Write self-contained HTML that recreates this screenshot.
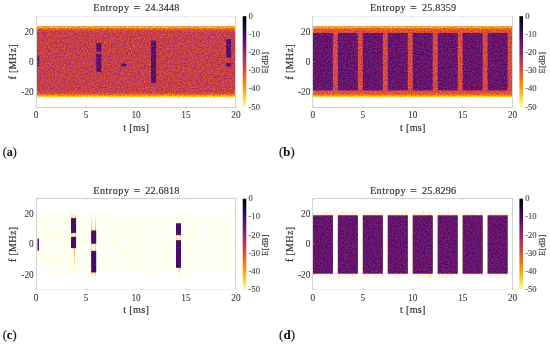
<!DOCTYPE html>
<html><head><meta charset="utf-8"><title>Entropy spectrograms</title>
<style>
html,body{margin:0;padding:0;background:#fff;}
body{width:550px;height:345px;overflow:hidden;}
svg{display:block;font-family:"Liberation Serif","DejaVu Serif",serif;fill:#333;}
text{stroke:#333;stroke-width:0.18px;}
text.k{stroke:#3c3c3c;stroke-width:0.1px;fill:#3c3c3c;}
</style></head><body>
<svg width="550" height="345" viewBox="0 0 550 345">
<defs>
<linearGradient id="cb" x1="0" y1="0" x2="0" y2="1"><stop offset="0.00" stop-color="rgb(0,0,4)"/><stop offset="0.05" stop-color="rgb(7,5,27)"/><stop offset="0.10" stop-color="rgb(22,11,57)"/><stop offset="0.15" stop-color="rgb(43,11,87)"/><stop offset="0.20" stop-color="rgb(66,10,104)"/><stop offset="0.25" stop-color="rgb(87,16,110)"/><stop offset="0.30" stop-color="rgb(106,23,110)"/><stop offset="0.35" stop-color="rgb(127,30,108)"/><stop offset="0.40" stop-color="rgb(147,38,103)"/><stop offset="0.45" stop-color="rgb(168,46,95)"/><stop offset="0.50" stop-color="rgb(188,55,84)"/><stop offset="0.55" stop-color="rgb(204,66,72)"/><stop offset="0.60" stop-color="rgb(221,81,58)"/><stop offset="0.65" stop-color="rgb(234,99,42)"/><stop offset="0.70" stop-color="rgb(243,120,25)"/><stop offset="0.75" stop-color="rgb(249,142,9)"/><stop offset="0.80" stop-color="rgb(252,165,10)"/><stop offset="0.85" stop-color="rgb(251,190,35)"/><stop offset="0.90" stop-color="rgb(246,215,70)"/><stop offset="0.95" stop-color="rgb(241,239,117)"/><stop offset="1.00" stop-color="rgb(252,255,164)"/></linearGradient>
<linearGradient id="bgA" x1="0" y1="0" x2="0" y2="1"><stop offset="0.0000" stop-color="#ededed"/><stop offset="0.0141" stop-color="#d6d6d6"/><stop offset="0.0282" stop-color="#b8b8b8"/><stop offset="0.0451" stop-color="#9e9e9e"/><stop offset="0.0649" stop-color="#909090"/><stop offset="0.0846" stop-color="#888888"/><stop offset="0.9154" stop-color="#888888"/><stop offset="0.9351" stop-color="#909090"/><stop offset="0.9549" stop-color="#9e9e9e"/><stop offset="0.9718" stop-color="#b8b8b8"/><stop offset="0.9859" stop-color="#d6d6d6"/><stop offset="1.0000" stop-color="#ededed"/></linearGradient>
<linearGradient id="bgB" x1="0" y1="0" x2="0" y2="1"><stop offset="0.0000" stop-color="#ededed"/><stop offset="0.0141" stop-color="#d6d6d6"/><stop offset="0.0282" stop-color="#b8b8b8"/><stop offset="0.0451" stop-color="#9e9e9e"/><stop offset="0.0649" stop-color="#9c9c9c"/><stop offset="0.0846" stop-color="#949494"/><stop offset="0.9154" stop-color="#949494"/><stop offset="0.9351" stop-color="#9c9c9c"/><stop offset="0.9549" stop-color="#9e9e9e"/><stop offset="0.9718" stop-color="#b8b8b8"/><stop offset="0.9859" stop-color="#d6d6d6"/><stop offset="1.0000" stop-color="#ededed"/></linearGradient>
<linearGradient id="lnU" x1="0" y1="1" x2="0" y2="0"><stop offset="0" stop-color="#f57d15" stop-opacity="0.95"/><stop offset="0.45" stop-color="#fbb61a" stop-opacity="0.75"/><stop offset="1" stop-color="#fce96a" stop-opacity="0.2"/></linearGradient>
<linearGradient id="lnD" x1="0" y1="0" x2="0" y2="1"><stop offset="0" stop-color="#f57d15" stop-opacity="0.95"/><stop offset="0.45" stop-color="#fbb61a" stop-opacity="0.75"/><stop offset="1" stop-color="#fce96a" stop-opacity="0.2"/></linearGradient>
<linearGradient id="capC" x1="0" y1="0" x2="0" y2="1"><stop offset="0" stop-color="#9e9e9e"/><stop offset="0.03" stop-color="#3b3b3b"/><stop offset="0.97" stop-color="#3b3b3b"/><stop offset="1" stop-color="#9e9e9e"/></linearGradient>
<filter id="fA" filterUnits="userSpaceOnUse" x="0" y="0" width="550" height="345" color-interpolation-filters="sRGB">
<feTurbulence type="fractalNoise" baseFrequency="0.7" numOctaves="2" seed="3" result="t"/>
<feColorMatrix in="t" type="matrix" values="1 0 0 0 0  1 0 0 0 0  1 0 0 0 0  0 0 0 0 1" result="n"/>
<feComposite in="n" in2="SourceGraphic" operator="arithmetic" k1="0" k2="0.4" k3="1" k4="-0.200" result="v"/>
<feComponentTransfer in="v" result="c"><feFuncR type="table" tableValues="0.001 0.006 0.014 0.026 0.042 0.061 0.082 0.105 0.129 0.156 0.183 0.211 0.238 0.265 0.291 0.316 0.348 0.373 0.398 0.423 0.447 0.472 0.497 0.522 0.547 0.572 0.597 0.622 0.646 0.671 0.695 0.718 0.747 0.770 0.791 0.812 0.832 0.851 0.869 0.886 0.902 0.916 0.930 0.942 0.952 0.961 0.969 0.976 0.982 0.985 0.987 0.988 0.987 0.985 0.981 0.976 0.970 0.963 0.955 0.949 0.946 0.952 0.966 0.988"/><feFuncG type="table" tableValues="0.000 0.005 0.011 0.019 0.028 0.037 0.043 0.047 0.047 0.045 0.040 0.037 0.037 0.040 0.046 0.053 0.065 0.074 0.083 0.093 0.102 0.111 0.119 0.128 0.137 0.146 0.155 0.164 0.174 0.184 0.195 0.207 0.222 0.236 0.251 0.267 0.284 0.302 0.322 0.343 0.364 0.387 0.411 0.436 0.462 0.489 0.516 0.544 0.579 0.608 0.638 0.668 0.698 0.728 0.759 0.790 0.821 0.851 0.882 0.910 0.937 0.961 0.981 0.998"/><feFuncB type="table" tableValues="0.014 0.039 0.072 0.106 0.141 0.178 0.215 0.253 0.291 0.325 0.355 0.379 0.396 0.409 0.419 0.425 0.430 0.432 0.433 0.433 0.431 0.428 0.424 0.420 0.414 0.406 0.398 0.389 0.378 0.367 0.354 0.341 0.323 0.307 0.291 0.275 0.257 0.240 0.221 0.203 0.184 0.165 0.145 0.125 0.105 0.084 0.063 0.044 0.026 0.024 0.035 0.058 0.088 0.121 0.157 0.196 0.239 0.286 0.337 0.395 0.459 0.524 0.587 0.645"/><feFuncA type="linear" slope="0" intercept="1"/></feComponentTransfer>
<feComposite in="c" in2="SourceGraphic" operator="in"/>
</filter>
<filter id="fB" filterUnits="userSpaceOnUse" x="0" y="0" width="550" height="345" color-interpolation-filters="sRGB">
<feTurbulence type="fractalNoise" baseFrequency="0.7" numOctaves="2" seed="11" result="t"/>
<feColorMatrix in="t" type="matrix" values="1 0 0 0 0  1 0 0 0 0  1 0 0 0 0  0 0 0 0 1" result="n"/>
<feComposite in="n" in2="SourceGraphic" operator="arithmetic" k1="0" k2="0.36" k3="1" k4="-0.180" result="v"/>
<feComponentTransfer in="v" result="c"><feFuncR type="table" tableValues="0.001 0.006 0.014 0.026 0.042 0.061 0.082 0.105 0.129 0.156 0.183 0.211 0.238 0.265 0.291 0.316 0.348 0.373 0.398 0.423 0.447 0.472 0.497 0.522 0.547 0.572 0.597 0.622 0.646 0.671 0.695 0.718 0.747 0.770 0.791 0.812 0.832 0.851 0.869 0.886 0.902 0.916 0.930 0.942 0.952 0.961 0.969 0.976 0.982 0.985 0.987 0.988 0.987 0.985 0.981 0.976 0.970 0.963 0.955 0.949 0.946 0.952 0.966 0.988"/><feFuncG type="table" tableValues="0.000 0.005 0.011 0.019 0.028 0.037 0.043 0.047 0.047 0.045 0.040 0.037 0.037 0.040 0.046 0.053 0.065 0.074 0.083 0.093 0.102 0.111 0.119 0.128 0.137 0.146 0.155 0.164 0.174 0.184 0.195 0.207 0.222 0.236 0.251 0.267 0.284 0.302 0.322 0.343 0.364 0.387 0.411 0.436 0.462 0.489 0.516 0.544 0.579 0.608 0.638 0.668 0.698 0.728 0.759 0.790 0.821 0.851 0.882 0.910 0.937 0.961 0.981 0.998"/><feFuncB type="table" tableValues="0.014 0.039 0.072 0.106 0.141 0.178 0.215 0.253 0.291 0.325 0.355 0.379 0.396 0.409 0.419 0.425 0.430 0.432 0.433 0.433 0.431 0.428 0.424 0.420 0.414 0.406 0.398 0.389 0.378 0.367 0.354 0.341 0.323 0.307 0.291 0.275 0.257 0.240 0.221 0.203 0.184 0.165 0.145 0.125 0.105 0.084 0.063 0.044 0.026 0.024 0.035 0.058 0.088 0.121 0.157 0.196 0.239 0.286 0.337 0.395 0.459 0.524 0.587 0.645"/><feFuncA type="linear" slope="0" intercept="1"/></feComponentTransfer>
<feComposite in="c" in2="SourceGraphic" operator="in"/>
</filter>
<filter id="fC" filterUnits="userSpaceOnUse" x="0" y="0" width="550" height="345" color-interpolation-filters="sRGB">
<feTurbulence type="fractalNoise" baseFrequency="0.7" numOctaves="2" seed="13" result="t"/>
<feColorMatrix in="t" type="matrix" values="1 0 0 0 0  1 0 0 0 0  1 0 0 0 0  0 0 0 0 1" result="n"/>
<feComposite in="n" in2="SourceGraphic" operator="arithmetic" k1="0" k2="0.28" k3="1" k4="-0.140" result="v"/>
<feComponentTransfer in="v" result="c"><feFuncR type="table" tableValues="0.001 0.006 0.014 0.026 0.042 0.061 0.082 0.105 0.129 0.156 0.183 0.211 0.238 0.265 0.291 0.316 0.348 0.373 0.398 0.423 0.447 0.472 0.497 0.522 0.547 0.572 0.597 0.622 0.646 0.671 0.695 0.718 0.747 0.770 0.791 0.812 0.832 0.851 0.869 0.886 0.902 0.916 0.930 0.942 0.952 0.961 0.969 0.976 0.982 0.985 0.987 0.988 0.987 0.985 0.981 0.976 0.970 0.963 0.955 0.949 0.946 0.952 0.966 0.988"/><feFuncG type="table" tableValues="0.000 0.005 0.011 0.019 0.028 0.037 0.043 0.047 0.047 0.045 0.040 0.037 0.037 0.040 0.046 0.053 0.065 0.074 0.083 0.093 0.102 0.111 0.119 0.128 0.137 0.146 0.155 0.164 0.174 0.184 0.195 0.207 0.222 0.236 0.251 0.267 0.284 0.302 0.322 0.343 0.364 0.387 0.411 0.436 0.462 0.489 0.516 0.544 0.579 0.608 0.638 0.668 0.698 0.728 0.759 0.790 0.821 0.851 0.882 0.910 0.937 0.961 0.981 0.998"/><feFuncB type="table" tableValues="0.014 0.039 0.072 0.106 0.141 0.178 0.215 0.253 0.291 0.325 0.355 0.379 0.396 0.409 0.419 0.425 0.430 0.432 0.433 0.433 0.431 0.428 0.424 0.420 0.414 0.406 0.398 0.389 0.378 0.367 0.354 0.341 0.323 0.307 0.291 0.275 0.257 0.240 0.221 0.203 0.184 0.165 0.145 0.125 0.105 0.084 0.063 0.044 0.026 0.024 0.035 0.058 0.088 0.121 0.157 0.196 0.239 0.286 0.337 0.395 0.459 0.524 0.587 0.645"/><feFuncA type="linear" slope="0" intercept="1"/></feComponentTransfer>
<feComposite in="c" in2="SourceGraphic" operator="in"/>
</filter>
<filter id="fD" filterUnits="userSpaceOnUse" x="0" y="0" width="550" height="345" color-interpolation-filters="sRGB">
<feTurbulence type="fractalNoise" baseFrequency="0.7" numOctaves="2" seed="9" result="t"/>
<feColorMatrix in="t" type="matrix" values="1 0 0 0 0  1 0 0 0 0  1 0 0 0 0  0 0 0 0 1" result="n"/>
<feComposite in="n" in2="SourceGraphic" operator="arithmetic" k1="0" k2="0.34" k3="1" k4="-0.170" result="v"/>
<feComponentTransfer in="v" result="c"><feFuncR type="table" tableValues="0.001 0.006 0.014 0.026 0.042 0.061 0.082 0.105 0.129 0.156 0.183 0.211 0.238 0.265 0.291 0.316 0.348 0.373 0.398 0.423 0.447 0.472 0.497 0.522 0.547 0.572 0.597 0.622 0.646 0.671 0.695 0.718 0.747 0.770 0.791 0.812 0.832 0.851 0.869 0.886 0.902 0.916 0.930 0.942 0.952 0.961 0.969 0.976 0.982 0.985 0.987 0.988 0.987 0.985 0.981 0.976 0.970 0.963 0.955 0.949 0.946 0.952 0.966 0.988"/><feFuncG type="table" tableValues="0.000 0.005 0.011 0.019 0.028 0.037 0.043 0.047 0.047 0.045 0.040 0.037 0.037 0.040 0.046 0.053 0.065 0.074 0.083 0.093 0.102 0.111 0.119 0.128 0.137 0.146 0.155 0.164 0.174 0.184 0.195 0.207 0.222 0.236 0.251 0.267 0.284 0.302 0.322 0.343 0.364 0.387 0.411 0.436 0.462 0.489 0.516 0.544 0.579 0.608 0.638 0.668 0.698 0.728 0.759 0.790 0.821 0.851 0.882 0.910 0.937 0.961 0.981 0.998"/><feFuncB type="table" tableValues="0.014 0.039 0.072 0.106 0.141 0.178 0.215 0.253 0.291 0.325 0.355 0.379 0.396 0.409 0.419 0.425 0.430 0.432 0.433 0.433 0.431 0.428 0.424 0.420 0.414 0.406 0.398 0.389 0.378 0.367 0.354 0.341 0.323 0.307 0.291 0.275 0.257 0.240 0.221 0.203 0.184 0.165 0.145 0.125 0.105 0.084 0.063 0.044 0.026 0.024 0.035 0.058 0.088 0.121 0.157 0.196 0.239 0.286 0.337 0.395 0.459 0.524 0.587 0.645"/><feFuncA type="linear" slope="0" intercept="1"/></feComponentTransfer>
<feComposite in="c" in2="SourceGraphic" operator="in"/>
</filter>
<filter id="sC" filterUnits="userSpaceOnUse" x="0" y="0" width="550" height="345" color-interpolation-filters="sRGB">
<feTurbulence type="fractalNoise" baseFrequency="0.7" numOctaves="2" seed="21" result="t"/>
<feColorMatrix in="t" type="matrix" values="1 0 0 0 0  1 0 0 0 0  1 0 0 0 0  0 0 0 0 1" result="g"/>
<feComponentTransfer in="g" result="c"><feFuncR type="table" tableValues="1.000 1.000 1.000 1.000 1.000 1.000 1.000 1.000 1.000 1.000 1.000 1.000 1.000 1.000 1.000 1.000 1.000 1.000 1.000 0.999 0.999 0.998 0.998 0.997 0.997 0.996 0.995 0.995 0.994 0.994 0.993 0.993 0.992 0.992 0.992 0.992 0.992 0.992 0.992 0.992 0.992"/><feFuncG type="table" tableValues="1.000 1.000 1.000 1.000 1.000 1.000 1.000 1.000 1.000 1.000 1.000 1.000 1.000 1.000 1.000 1.000 1.000 1.000 1.000 1.000 1.000 1.000 1.000 1.000 1.000 1.000 1.000 1.000 1.000 1.000 1.000 1.000 1.000 1.000 1.000 1.000 1.000 1.000 1.000 1.000 1.000"/><feFuncB type="table" tableValues="1.000 1.000 1.000 1.000 1.000 1.000 1.000 1.000 1.000 1.000 1.000 1.000 1.000 1.000 1.000 1.000 1.000 1.000 0.994 0.979 0.964 0.949 0.934 0.919 0.904 0.889 0.874 0.859 0.844 0.829 0.814 0.799 0.784 0.784 0.784 0.784 0.784 0.784 0.784 0.784 0.784"/></feComponentTransfer>
<feComposite in="c" in2="SourceGraphic" operator="in"/>
</filter>
<filter id="sD" filterUnits="userSpaceOnUse" x="0" y="0" width="550" height="345" color-interpolation-filters="sRGB">
<feTurbulence type="fractalNoise" baseFrequency="0.7" numOctaves="2" seed="23" result="t"/>
<feColorMatrix in="t" type="matrix" values="1 0 0 0 0  1 0 0 0 0  1 0 0 0 0  0 0 0 0 1" result="g"/>
<feComponentTransfer in="g" result="c"><feFuncR type="table" tableValues="1.000 1.000 1.000 1.000 1.000 1.000 1.000 1.000 1.000 1.000 1.000 1.000 1.000 1.000 1.000 1.000 1.000 1.000 1.000 1.000 1.000 1.000 0.999 0.999 0.998 0.998 0.997 0.997 0.996 0.996 0.995 0.995 0.994 0.994 0.993 0.993 0.992 0.992 0.992 0.992 0.992"/><feFuncG type="table" tableValues="1.000 1.000 1.000 1.000 1.000 1.000 1.000 1.000 1.000 1.000 1.000 1.000 1.000 1.000 1.000 1.000 1.000 1.000 1.000 1.000 1.000 1.000 1.000 1.000 1.000 1.000 1.000 1.000 1.000 1.000 1.000 1.000 1.000 1.000 1.000 1.000 1.000 1.000 1.000 1.000 1.000"/><feFuncB type="table" tableValues="1.000 1.000 1.000 1.000 1.000 1.000 1.000 1.000 1.000 1.000 1.000 1.000 1.000 1.000 1.000 1.000 1.000 1.000 1.000 1.000 1.000 0.989 0.978 0.967 0.956 0.945 0.934 0.923 0.912 0.901 0.890 0.879 0.868 0.857 0.846 0.835 0.824 0.824 0.824 0.824 0.824"/></feComponentTransfer>
<feComposite in="c" in2="SourceGraphic" operator="in"/>
</filter>
</defs>
<rect x="0" y="0" width="550" height="345" fill="#fff"/>
<g id="panel-a">
<g filter="url(#fA)"><rect x="36.20" y="26.20" width="199.70" height="70.90" fill="url(#bgA)"/>
<rect x="37.60" y="55.90" width="1.50" height="10.80" fill="#414141"/>
<rect x="96.30" y="43.00" width="5.00" height="8.50" fill="#414141"/>
<rect x="96.30" y="53.90" width="5.00" height="18.30" fill="#414141"/>
<rect x="120.90" y="63.70" width="5.40" height="2.60" fill="#414141"/>
<rect x="151.10" y="40.70" width="5.00" height="42.60" fill="#414141"/>
<rect x="226.30" y="39.10" width="4.80" height="18.50" fill="#414141"/>
<rect x="226.30" y="63.00" width="4.80" height="3.70" fill="#414141"/></g>
<path d="M36.5 16.20V107.80M235.5 16.20V107.80" stroke="#d4d4d4" stroke-width="1" fill="none"/>
<path d="M36.20 16.5H236.50" stroke="#ededed" stroke-width="1" fill="none"/>
<path d="M36.20 107.5H236.50" stroke="#d2d2d2" stroke-width="1" fill="none"/>
<path d="M36.20 107.20v-1.6M36.20 16.20v1.6" stroke="#bdbdbd" stroke-width="0.6"/>
<text x="36.20" y="118.30" font-size="9.3" text-anchor="middle" class="k">0</text>
<path d="M86.12 107.20v-1.6M86.12 16.20v1.6" stroke="#bdbdbd" stroke-width="0.6"/>
<text x="86.12" y="118.30" font-size="9.3" text-anchor="middle" class="k">5</text>
<path d="M136.05 107.20v-1.6M136.05 16.20v1.6" stroke="#bdbdbd" stroke-width="0.6"/>
<text x="136.05" y="118.30" font-size="9.3" text-anchor="middle" class="k">10</text>
<path d="M185.98 107.20v-1.6M185.98 16.20v1.6" stroke="#bdbdbd" stroke-width="0.6"/>
<text x="185.98" y="118.30" font-size="9.3" text-anchor="middle" class="k">15</text>
<path d="M235.90 107.20v-1.6M235.90 16.20v1.6" stroke="#bdbdbd" stroke-width="0.6"/>
<text x="235.90" y="118.30" font-size="9.3" text-anchor="middle" class="k">20</text>
<path d="M36.20 31.37h1.6M235.90 31.37h-1.6" stroke="#bdbdbd" stroke-width="0.6"/>
<text x="33.70" y="34.52" font-size="9.3" text-anchor="end" class="k">20</text>
<path d="M36.20 61.70h1.6M235.90 61.70h-1.6" stroke="#bdbdbd" stroke-width="0.6"/>
<text x="33.70" y="64.85" font-size="9.3" text-anchor="end" class="k">0</text>
<path d="M36.20 92.03h1.6M235.90 92.03h-1.6" stroke="#bdbdbd" stroke-width="0.6"/>
<text x="33.70" y="95.18" font-size="9.3" text-anchor="end" class="k">-20</text>
<text x="136.05" y="130.90" font-size="10.2" text-anchor="middle" textLength="25.5" lengthAdjust="spacing">t [ms]</text>
<text transform="translate(16.20 62.00) rotate(-90)" font-size="10" text-anchor="middle" textLength="35" lengthAdjust="spacing">f [MHz]</text>
<text y="11.00" font-size="10.2"><tspan x="93.20" textLength="35.8" lengthAdjust="spacing">Entropy</tspan> <tspan x="133.40" font-size="12" dy="1">=</tspan> <tspan x="145.20" dy="-1" textLength="34.2" lengthAdjust="spacing">24.3448</tspan></text>
<rect x="242.70" y="16.20" width="3.60" height="91.00" fill="url(#cb)"/>
<text x="248.50" y="18.60" font-size="8.6" class="k">0</text>
<text x="248.50" y="36.80" font-size="8.6" class="k">-10</text>
<text x="248.50" y="55.00" font-size="8.6" class="k">-20</text>
<text x="248.50" y="73.20" font-size="8.6" class="k">-30</text>
<text x="248.50" y="91.40" font-size="8.6" class="k">-40</text>
<text x="248.50" y="109.60" font-size="8.6" class="k">-50</text>
<text transform="translate(268.10 62.70) rotate(-90)" font-size="8.6" text-anchor="middle" textLength="21.5" lengthAdjust="spacing">E[dB]</text>
</g>
<g id="panel-b">
<g filter="url(#fB)"><rect x="312.90" y="26.20" width="199.70" height="70.90" fill="url(#bgB)"/>
<rect x="312.90" y="33.00" width="19.97" height="57.40" fill="#4a4a4a"/>
<rect x="337.86" y="33.00" width="19.97" height="57.40" fill="#4a4a4a"/>
<rect x="362.82" y="33.00" width="19.97" height="57.40" fill="#4a4a4a"/>
<rect x="387.79" y="33.00" width="19.97" height="57.40" fill="#4a4a4a"/>
<rect x="412.75" y="33.00" width="19.97" height="57.40" fill="#4a4a4a"/>
<rect x="437.71" y="33.00" width="19.97" height="57.40" fill="#4a4a4a"/>
<rect x="462.68" y="33.00" width="19.97" height="57.40" fill="#4a4a4a"/>
<rect x="487.64" y="33.00" width="19.97" height="57.40" fill="#4a4a4a"/></g>
<path d="M312.5 16.20V107.80M512.5 16.20V107.80" stroke="#d4d4d4" stroke-width="1" fill="none"/>
<path d="M312.90 16.5H513.20" stroke="#ededed" stroke-width="1" fill="none"/>
<path d="M312.90 107.5H513.20" stroke="#d2d2d2" stroke-width="1" fill="none"/>
<path d="M312.90 107.20v-1.6M312.90 16.20v1.6" stroke="#bdbdbd" stroke-width="0.6"/>
<text x="312.90" y="118.30" font-size="9.3" text-anchor="middle" class="k">0</text>
<path d="M362.82 107.20v-1.6M362.82 16.20v1.6" stroke="#bdbdbd" stroke-width="0.6"/>
<text x="362.82" y="118.30" font-size="9.3" text-anchor="middle" class="k">5</text>
<path d="M412.75 107.20v-1.6M412.75 16.20v1.6" stroke="#bdbdbd" stroke-width="0.6"/>
<text x="412.75" y="118.30" font-size="9.3" text-anchor="middle" class="k">10</text>
<path d="M462.68 107.20v-1.6M462.68 16.20v1.6" stroke="#bdbdbd" stroke-width="0.6"/>
<text x="462.68" y="118.30" font-size="9.3" text-anchor="middle" class="k">15</text>
<path d="M512.60 107.20v-1.6M512.60 16.20v1.6" stroke="#bdbdbd" stroke-width="0.6"/>
<text x="512.60" y="118.30" font-size="9.3" text-anchor="middle" class="k">20</text>
<path d="M312.90 31.37h1.6M512.60 31.37h-1.6" stroke="#bdbdbd" stroke-width="0.6"/>
<text x="310.40" y="34.52" font-size="9.3" text-anchor="end" class="k">20</text>
<path d="M312.90 61.70h1.6M512.60 61.70h-1.6" stroke="#bdbdbd" stroke-width="0.6"/>
<text x="310.40" y="64.85" font-size="9.3" text-anchor="end" class="k">0</text>
<path d="M312.90 92.03h1.6M512.60 92.03h-1.6" stroke="#bdbdbd" stroke-width="0.6"/>
<text x="310.40" y="95.18" font-size="9.3" text-anchor="end" class="k">-20</text>
<text x="412.75" y="130.90" font-size="10.2" text-anchor="middle" textLength="25.5" lengthAdjust="spacing">t [ms]</text>
<text transform="translate(292.90 62.00) rotate(-90)" font-size="10" text-anchor="middle" textLength="35" lengthAdjust="spacing">f [MHz]</text>
<text y="11.00" font-size="10.2"><tspan x="369.90" textLength="35.8" lengthAdjust="spacing">Entropy</tspan> <tspan x="410.10" font-size="12" dy="1">=</tspan> <tspan x="421.90" dy="-1" textLength="34.2" lengthAdjust="spacing">25.8359</tspan></text>
<rect x="519.40" y="16.20" width="3.60" height="91.00" fill="url(#cb)"/>
<text x="525.20" y="18.60" font-size="8.6" class="k">0</text>
<text x="525.20" y="36.80" font-size="8.6" class="k">-10</text>
<text x="525.20" y="55.00" font-size="8.6" class="k">-20</text>
<text x="525.20" y="73.20" font-size="8.6" class="k">-30</text>
<text x="525.20" y="91.40" font-size="8.6" class="k">-40</text>
<text x="525.20" y="109.60" font-size="8.6" class="k">-50</text>
<text transform="translate(544.80 62.70) rotate(-90)" font-size="8.6" text-anchor="middle" textLength="21.5" lengthAdjust="spacing">E[dB]</text>
</g>
<g id="panel-c">
<rect x="36.50" y="213.80" width="196.30" height="60.50" fill="#fffff0" filter="url(#sC)"/>
<rect x="71.65" y="211.40" width="0.7" height="7.10" fill="url(#lnU)"/>
<rect x="71.65" y="232.50" width="0.7" height="4.70" fill="#f68a1b" opacity="0.6"/>
<rect x="74.75" y="211.40" width="0.7" height="7.10" fill="url(#lnU)"/>
<rect x="74.75" y="232.50" width="0.7" height="4.70" fill="#f68a1b" opacity="0.6"/>
<rect x="73.95" y="247.80" width="0.7" height="25.00" fill="url(#lnD)"/>
<rect x="91.55" y="212.60" width="0.7" height="18.20" fill="url(#lnU)"/>
<rect x="91.55" y="243.20" width="0.7" height="8.00" fill="#f68a1b" opacity="0.6"/>
<rect x="91.55" y="272.00" width="0.7" height="5.50" fill="url(#lnD)"/>
<rect x="95.25" y="212.60" width="0.7" height="18.20" fill="url(#lnU)"/>
<rect x="95.25" y="243.20" width="0.7" height="8.00" fill="#f68a1b" opacity="0.6"/>
<rect x="95.25" y="272.00" width="0.7" height="5.50" fill="url(#lnD)"/>
<rect x="176.45" y="234.60" width="0.7" height="6.00" fill="#f68a1b" opacity="0.6"/>
<rect x="179.75" y="234.60" width="0.7" height="6.00" fill="#f68a1b" opacity="0.6"/>
<rect x="178.85" y="267.40" width="0.7" height="8.90" fill="url(#lnD)"/>
<rect x="37.80" y="238.45" width="1.00" height="12.60" fill="#f0701f"/>
<rect x="71.20" y="217.85" width="4.70" height="15.40" fill="#f0701f"/>
<rect x="71.20" y="236.55" width="4.70" height="11.80" fill="#f0701f"/>
<rect x="91.40" y="230.25" width="4.60" height="13.70" fill="#f0701f"/>
<rect x="91.40" y="250.65" width="4.60" height="22.00" fill="#f0701f"/>
<rect x="176.20" y="223.05" width="4.60" height="12.30" fill="#f0701f"/>
<rect x="176.20" y="239.95" width="4.60" height="28.10" fill="#f0701f"/>
<g filter="url(#fC)"><rect x="37.60" y="238.90" width="1.40" height="11.70" fill="#383838"/>
<rect x="71.00" y="218.30" width="5.10" height="14.50" fill="#383838"/>
<rect x="71.00" y="237.00" width="5.10" height="10.90" fill="#383838"/>
<rect x="91.20" y="230.70" width="5.00" height="12.80" fill="#383838"/>
<rect x="91.20" y="251.10" width="5.00" height="21.10" fill="#383838"/>
<rect x="176.00" y="223.50" width="5.00" height="11.40" fill="#383838"/>
<rect x="176.00" y="240.40" width="5.00" height="27.20" fill="#383838"/></g>
<path d="M36.5 198.70V290.30M235.5 198.70V290.30" stroke="#d4d4d4" stroke-width="1" fill="none"/>
<path d="M36.20 198.5H236.50" stroke="#d2d2d2" stroke-width="1" fill="none"/>
<path d="M36.20 289.5H236.50" stroke="#efefef" stroke-width="1" fill="none"/>
<path d="M36.20 289.70v-1.6M36.20 198.70v1.6" stroke="#bdbdbd" stroke-width="0.6"/>
<text x="36.20" y="300.80" font-size="9.3" text-anchor="middle" class="k">0</text>
<path d="M86.12 289.70v-1.6M86.12 198.70v1.6" stroke="#bdbdbd" stroke-width="0.6"/>
<text x="86.12" y="300.80" font-size="9.3" text-anchor="middle" class="k">5</text>
<path d="M136.05 289.70v-1.6M136.05 198.70v1.6" stroke="#bdbdbd" stroke-width="0.6"/>
<text x="136.05" y="300.80" font-size="9.3" text-anchor="middle" class="k">10</text>
<path d="M185.98 289.70v-1.6M185.98 198.70v1.6" stroke="#bdbdbd" stroke-width="0.6"/>
<text x="185.98" y="300.80" font-size="9.3" text-anchor="middle" class="k">15</text>
<path d="M235.90 289.70v-1.6M235.90 198.70v1.6" stroke="#bdbdbd" stroke-width="0.6"/>
<text x="235.90" y="300.80" font-size="9.3" text-anchor="middle" class="k">20</text>
<path d="M36.20 213.87h1.6M235.90 213.87h-1.6" stroke="#bdbdbd" stroke-width="0.6"/>
<text x="33.70" y="217.02" font-size="9.3" text-anchor="end" class="k">20</text>
<path d="M36.20 244.20h1.6M235.90 244.20h-1.6" stroke="#bdbdbd" stroke-width="0.6"/>
<text x="33.70" y="247.35" font-size="9.3" text-anchor="end" class="k">0</text>
<path d="M36.20 274.53h1.6M235.90 274.53h-1.6" stroke="#bdbdbd" stroke-width="0.6"/>
<text x="33.70" y="277.68" font-size="9.3" text-anchor="end" class="k">-20</text>
<text x="136.05" y="313.40" font-size="10.2" text-anchor="middle" textLength="25.5" lengthAdjust="spacing">t [ms]</text>
<text transform="translate(16.20 244.50) rotate(-90)" font-size="10" text-anchor="middle" textLength="35" lengthAdjust="spacing">f [MHz]</text>
<text y="193.50" font-size="10.2"><tspan x="93.20" textLength="35.8" lengthAdjust="spacing">Entropy</tspan> <tspan x="133.40" font-size="12" dy="1">=</tspan> <tspan x="145.20" dy="-1" textLength="34.2" lengthAdjust="spacing">22.6818</tspan></text>
<rect x="242.70" y="198.70" width="3.60" height="91.00" fill="url(#cb)"/>
<text x="248.50" y="201.10" font-size="8.6" class="k">0</text>
<text x="248.50" y="219.30" font-size="8.6" class="k">-10</text>
<text x="248.50" y="237.50" font-size="8.6" class="k">-20</text>
<text x="248.50" y="255.70" font-size="8.6" class="k">-30</text>
<text x="248.50" y="273.90" font-size="8.6" class="k">-40</text>
<text x="248.50" y="292.10" font-size="8.6" class="k">-50</text>
<text transform="translate(268.10 245.20) rotate(-90)" font-size="8.6" text-anchor="middle" textLength="21.5" lengthAdjust="spacing">E[dB]</text>
</g>
<g id="panel-d">
<rect x="312.90" y="215.00" width="196.70" height="59.00" fill="#fffff0" filter="url(#sD)"/>
<path d="M313.92 213.14V215.40" stroke="#fbc44a" stroke-width="0.8" opacity="0.41"/>
<path d="M313.92 273.60V276.59" stroke="#fbc44a" stroke-width="0.8" opacity="0.38"/>
<path d="M317.62 211.11V215.40" stroke="#fbc44a" stroke-width="0.8" opacity="0.66"/>
<path d="M317.62 273.60V277.60" stroke="#fbc44a" stroke-width="0.8" opacity="0.44"/>
<path d="M321.25 212.71V215.40" stroke="#fbc44a" stroke-width="0.8" opacity="0.39"/>
<path d="M321.25 273.60V276.03" stroke="#fbc44a" stroke-width="0.8" opacity="0.44"/>
<path d="M325.35 211.33V215.40" stroke="#fbc44a" stroke-width="0.8" opacity="0.67"/>
<path d="M325.35 273.60V277.62" stroke="#fbc44a" stroke-width="0.8" opacity="0.43"/>
<path d="M327.63 211.83V215.40" stroke="#fbc44a" stroke-width="0.8" opacity="0.69"/>
<path d="M327.63 273.60V277.43" stroke="#fbc44a" stroke-width="0.8" opacity="0.70"/>
<path d="M330.63 211.89V215.40" stroke="#fbc44a" stroke-width="0.8" opacity="0.55"/>
<path d="M330.63 273.60V277.28" stroke="#fbc44a" stroke-width="0.8" opacity="0.42"/>
<rect x="312.90" y="214.90" width="19.97" height="59.20" fill="#f79a25"/>
<path d="M339.31 213.18V215.40" stroke="#fbc44a" stroke-width="0.8" opacity="0.70"/>
<path d="M339.31 273.60V277.94" stroke="#fbc44a" stroke-width="0.8" opacity="0.57"/>
<path d="M342.40 211.13V215.40" stroke="#fbc44a" stroke-width="0.8" opacity="0.70"/>
<path d="M342.40 273.60V277.03" stroke="#fbc44a" stroke-width="0.8" opacity="0.69"/>
<path d="M346.17 212.37V215.40" stroke="#fbc44a" stroke-width="0.8" opacity="0.52"/>
<path d="M346.17 273.60V277.10" stroke="#fbc44a" stroke-width="0.8" opacity="0.41"/>
<path d="M349.19 211.37V215.40" stroke="#fbc44a" stroke-width="0.8" opacity="0.37"/>
<path d="M349.19 273.60V275.71" stroke="#fbc44a" stroke-width="0.8" opacity="0.60"/>
<path d="M352.54 212.06V215.40" stroke="#fbc44a" stroke-width="0.8" opacity="0.49"/>
<path d="M352.54 273.60V276.78" stroke="#fbc44a" stroke-width="0.8" opacity="0.75"/>
<path d="M355.78 212.37V215.40" stroke="#fbc44a" stroke-width="0.8" opacity="0.60"/>
<path d="M355.78 273.60V276.11" stroke="#fbc44a" stroke-width="0.8" opacity="0.46"/>
<rect x="337.86" y="214.90" width="19.97" height="59.20" fill="#f79a25"/>
<path d="M364.07 211.53V215.40" stroke="#fbc44a" stroke-width="0.8" opacity="0.57"/>
<path d="M364.07 273.60V276.40" stroke="#fbc44a" stroke-width="0.8" opacity="0.71"/>
<path d="M367.00 213.25V215.40" stroke="#fbc44a" stroke-width="0.8" opacity="0.66"/>
<path d="M367.00 273.60V276.17" stroke="#fbc44a" stroke-width="0.8" opacity="0.60"/>
<path d="M370.64 212.57V215.40" stroke="#fbc44a" stroke-width="0.8" opacity="0.53"/>
<path d="M370.64 273.60V276.04" stroke="#fbc44a" stroke-width="0.8" opacity="0.37"/>
<path d="M374.86 211.16V215.40" stroke="#fbc44a" stroke-width="0.8" opacity="0.64"/>
<path d="M374.86 273.60V277.99" stroke="#fbc44a" stroke-width="0.8" opacity="0.73"/>
<path d="M377.03 212.68V215.40" stroke="#fbc44a" stroke-width="0.8" opacity="0.66"/>
<path d="M377.03 273.60V278.02" stroke="#fbc44a" stroke-width="0.8" opacity="0.51"/>
<path d="M382.09 211.85V215.40" stroke="#fbc44a" stroke-width="0.8" opacity="0.47"/>
<path d="M382.09 273.60V277.64" stroke="#fbc44a" stroke-width="0.8" opacity="0.43"/>
<rect x="362.82" y="214.90" width="19.97" height="59.20" fill="#f79a25"/>
<path d="M389.19 213.06V215.40" stroke="#fbc44a" stroke-width="0.8" opacity="0.73"/>
<path d="M389.19 273.60V276.55" stroke="#fbc44a" stroke-width="0.8" opacity="0.48"/>
<path d="M391.80 213.29V215.40" stroke="#fbc44a" stroke-width="0.8" opacity="0.66"/>
<path d="M391.80 273.60V276.02" stroke="#fbc44a" stroke-width="0.8" opacity="0.50"/>
<path d="M395.70 213.16V215.40" stroke="#fbc44a" stroke-width="0.8" opacity="0.52"/>
<path d="M395.70 273.60V278.05" stroke="#fbc44a" stroke-width="0.8" opacity="0.43"/>
<path d="M398.68 213.26V215.40" stroke="#fbc44a" stroke-width="0.8" opacity="0.62"/>
<path d="M398.68 273.60V276.02" stroke="#fbc44a" stroke-width="0.8" opacity="0.41"/>
<path d="M402.04 212.17V215.40" stroke="#fbc44a" stroke-width="0.8" opacity="0.75"/>
<path d="M402.04 273.60V276.22" stroke="#fbc44a" stroke-width="0.8" opacity="0.40"/>
<path d="M406.31 211.47V215.40" stroke="#fbc44a" stroke-width="0.8" opacity="0.75"/>
<path d="M406.31 273.60V276.62" stroke="#fbc44a" stroke-width="0.8" opacity="0.54"/>
<rect x="387.79" y="214.90" width="19.97" height="59.20" fill="#f79a25"/>
<path d="M413.79 212.37V215.40" stroke="#fbc44a" stroke-width="0.8" opacity="0.52"/>
<path d="M413.79 273.60V275.69" stroke="#fbc44a" stroke-width="0.8" opacity="0.45"/>
<path d="M418.34 211.32V215.40" stroke="#fbc44a" stroke-width="0.8" opacity="0.36"/>
<path d="M418.34 273.60V276.85" stroke="#fbc44a" stroke-width="0.8" opacity="0.45"/>
<path d="M420.57 212.88V215.40" stroke="#fbc44a" stroke-width="0.8" opacity="0.70"/>
<path d="M420.57 273.60V276.18" stroke="#fbc44a" stroke-width="0.8" opacity="0.41"/>
<path d="M423.62 211.08V215.40" stroke="#fbc44a" stroke-width="0.8" opacity="0.75"/>
<path d="M423.62 273.60V277.01" stroke="#fbc44a" stroke-width="0.8" opacity="0.51"/>
<path d="M428.55 211.77V215.40" stroke="#fbc44a" stroke-width="0.8" opacity="0.65"/>
<path d="M428.55 273.60V277.58" stroke="#fbc44a" stroke-width="0.8" opacity="0.55"/>
<path d="M430.49 212.87V215.40" stroke="#fbc44a" stroke-width="0.8" opacity="0.71"/>
<path d="M430.49 273.60V277.78" stroke="#fbc44a" stroke-width="0.8" opacity="0.72"/>
<rect x="412.75" y="214.90" width="19.97" height="59.20" fill="#f79a25"/>
<path d="M438.92 211.76V215.40" stroke="#fbc44a" stroke-width="0.8" opacity="0.61"/>
<path d="M438.92 273.60V277.60" stroke="#fbc44a" stroke-width="0.8" opacity="0.68"/>
<path d="M442.66 211.76V215.40" stroke="#fbc44a" stroke-width="0.8" opacity="0.46"/>
<path d="M442.66 273.60V277.31" stroke="#fbc44a" stroke-width="0.8" opacity="0.72"/>
<path d="M446.82 213.21V215.40" stroke="#fbc44a" stroke-width="0.8" opacity="0.73"/>
<path d="M446.82 273.60V278.03" stroke="#fbc44a" stroke-width="0.8" opacity="0.62"/>
<path d="M448.57 211.15V215.40" stroke="#fbc44a" stroke-width="0.8" opacity="0.74"/>
<path d="M448.57 273.60V275.92" stroke="#fbc44a" stroke-width="0.8" opacity="0.62"/>
<path d="M452.00 212.98V215.40" stroke="#fbc44a" stroke-width="0.8" opacity="0.58"/>
<path d="M452.00 273.60V277.19" stroke="#fbc44a" stroke-width="0.8" opacity="0.65"/>
<path d="M456.95 212.85V215.40" stroke="#fbc44a" stroke-width="0.8" opacity="0.72"/>
<path d="M456.95 273.60V275.61" stroke="#fbc44a" stroke-width="0.8" opacity="0.36"/>
<rect x="437.71" y="214.90" width="19.97" height="59.20" fill="#f79a25"/>
<path d="M464.85 213.11V215.40" stroke="#fbc44a" stroke-width="0.8" opacity="0.66"/>
<path d="M464.85 273.60V277.62" stroke="#fbc44a" stroke-width="0.8" opacity="0.70"/>
<path d="M467.66 211.20V215.40" stroke="#fbc44a" stroke-width="0.8" opacity="0.62"/>
<path d="M467.66 273.60V276.10" stroke="#fbc44a" stroke-width="0.8" opacity="0.48"/>
<path d="M471.67 211.47V215.40" stroke="#fbc44a" stroke-width="0.8" opacity="0.56"/>
<path d="M471.67 273.60V276.78" stroke="#fbc44a" stroke-width="0.8" opacity="0.36"/>
<path d="M473.52 211.91V215.40" stroke="#fbc44a" stroke-width="0.8" opacity="0.70"/>
<path d="M473.52 273.60V276.82" stroke="#fbc44a" stroke-width="0.8" opacity="0.59"/>
<path d="M477.10 212.49V215.40" stroke="#fbc44a" stroke-width="0.8" opacity="0.56"/>
<path d="M477.10 273.60V277.52" stroke="#fbc44a" stroke-width="0.8" opacity="0.35"/>
<path d="M481.75 211.33V215.40" stroke="#fbc44a" stroke-width="0.8" opacity="0.57"/>
<path d="M481.75 273.60V275.81" stroke="#fbc44a" stroke-width="0.8" opacity="0.50"/>
<rect x="462.68" y="214.90" width="19.97" height="59.20" fill="#f79a25"/>
<path d="M489.65 212.62V215.40" stroke="#fbc44a" stroke-width="0.8" opacity="0.54"/>
<path d="M489.65 273.60V276.18" stroke="#fbc44a" stroke-width="0.8" opacity="0.74"/>
<path d="M491.80 213.11V215.40" stroke="#fbc44a" stroke-width="0.8" opacity="0.70"/>
<path d="M491.80 273.60V277.15" stroke="#fbc44a" stroke-width="0.8" opacity="0.55"/>
<path d="M495.81 211.26V215.40" stroke="#fbc44a" stroke-width="0.8" opacity="0.38"/>
<path d="M495.81 273.60V277.54" stroke="#fbc44a" stroke-width="0.8" opacity="0.70"/>
<path d="M498.77 212.64V215.40" stroke="#fbc44a" stroke-width="0.8" opacity="0.52"/>
<path d="M498.77 273.60V277.69" stroke="#fbc44a" stroke-width="0.8" opacity="0.67"/>
<path d="M502.11 211.21V215.40" stroke="#fbc44a" stroke-width="0.8" opacity="0.41"/>
<path d="M502.11 273.60V276.04" stroke="#fbc44a" stroke-width="0.8" opacity="0.55"/>
<path d="M505.82 212.05V215.40" stroke="#fbc44a" stroke-width="0.8" opacity="0.63"/>
<path d="M505.82 273.60V277.86" stroke="#fbc44a" stroke-width="0.8" opacity="0.35"/>
<rect x="487.64" y="214.90" width="19.97" height="59.20" fill="#f79a25"/>
<g filter="url(#fD)"><rect x="312.90" y="215.50" width="19.97" height="58.00" fill="#494949"/>
<rect x="337.86" y="215.50" width="19.97" height="58.00" fill="#494949"/>
<rect x="362.82" y="215.50" width="19.97" height="58.00" fill="#494949"/>
<rect x="387.79" y="215.50" width="19.97" height="58.00" fill="#494949"/>
<rect x="412.75" y="215.50" width="19.97" height="58.00" fill="#494949"/>
<rect x="437.71" y="215.50" width="19.97" height="58.00" fill="#494949"/>
<rect x="462.68" y="215.50" width="19.97" height="58.00" fill="#494949"/>
<rect x="487.64" y="215.50" width="19.97" height="58.00" fill="#494949"/></g>
<path d="M312.5 198.70V290.30M512.5 198.70V290.30" stroke="#d4d4d4" stroke-width="1" fill="none"/>
<path d="M312.90 198.5H513.20" stroke="#d2d2d2" stroke-width="1" fill="none"/>
<path d="M312.90 289.5H513.20" stroke="#efefef" stroke-width="1" fill="none"/>
<path d="M312.90 289.70v-1.6M312.90 198.70v1.6" stroke="#bdbdbd" stroke-width="0.6"/>
<text x="312.90" y="300.80" font-size="9.3" text-anchor="middle" class="k">0</text>
<path d="M362.82 289.70v-1.6M362.82 198.70v1.6" stroke="#bdbdbd" stroke-width="0.6"/>
<text x="362.82" y="300.80" font-size="9.3" text-anchor="middle" class="k">5</text>
<path d="M412.75 289.70v-1.6M412.75 198.70v1.6" stroke="#bdbdbd" stroke-width="0.6"/>
<text x="412.75" y="300.80" font-size="9.3" text-anchor="middle" class="k">10</text>
<path d="M462.68 289.70v-1.6M462.68 198.70v1.6" stroke="#bdbdbd" stroke-width="0.6"/>
<text x="462.68" y="300.80" font-size="9.3" text-anchor="middle" class="k">15</text>
<path d="M512.60 289.70v-1.6M512.60 198.70v1.6" stroke="#bdbdbd" stroke-width="0.6"/>
<text x="512.60" y="300.80" font-size="9.3" text-anchor="middle" class="k">20</text>
<path d="M312.90 213.87h1.6M512.60 213.87h-1.6" stroke="#bdbdbd" stroke-width="0.6"/>
<text x="310.40" y="217.02" font-size="9.3" text-anchor="end" class="k">20</text>
<path d="M312.90 244.20h1.6M512.60 244.20h-1.6" stroke="#bdbdbd" stroke-width="0.6"/>
<text x="310.40" y="247.35" font-size="9.3" text-anchor="end" class="k">0</text>
<path d="M312.90 274.53h1.6M512.60 274.53h-1.6" stroke="#bdbdbd" stroke-width="0.6"/>
<text x="310.40" y="277.68" font-size="9.3" text-anchor="end" class="k">-20</text>
<text x="412.75" y="313.40" font-size="10.2" text-anchor="middle" textLength="25.5" lengthAdjust="spacing">t [ms]</text>
<text transform="translate(292.90 244.50) rotate(-90)" font-size="10" text-anchor="middle" textLength="35" lengthAdjust="spacing">f [MHz]</text>
<text y="193.50" font-size="10.2"><tspan x="369.90" textLength="35.8" lengthAdjust="spacing">Entropy</tspan> <tspan x="410.10" font-size="12" dy="1">=</tspan> <tspan x="421.90" dy="-1" textLength="34.2" lengthAdjust="spacing">25.8296</tspan></text>
<rect x="519.40" y="198.70" width="3.60" height="91.00" fill="url(#cb)"/>
<text x="525.20" y="201.10" font-size="8.6" class="k">0</text>
<text x="525.20" y="219.30" font-size="8.6" class="k">-10</text>
<text x="525.20" y="237.50" font-size="8.6" class="k">-20</text>
<text x="525.20" y="255.70" font-size="8.6" class="k">-30</text>
<text x="525.20" y="273.90" font-size="8.6" class="k">-40</text>
<text x="525.20" y="292.10" font-size="8.6" class="k">-50</text>
<text transform="translate(544.80 245.20) rotate(-90)" font-size="8.6" text-anchor="middle" textLength="21.5" lengthAdjust="spacing">E[dB]</text>
</g>
<g id="sublabels">
<text x="2.7" y="156.3" font-size="12" fill="#111" stroke="#111" textLength="14.0" lengthAdjust="spacingAndGlyphs">(<tspan font-weight="bold">a</tspan>)</text>
<text x="279.1" y="156.3" font-size="12" fill="#111" stroke="#111" textLength="15.6" lengthAdjust="spacingAndGlyphs">(<tspan font-weight="bold">b</tspan>)</text>
<text x="2.7" y="338.8" font-size="12" fill="#111" stroke="#111" textLength="13.9" lengthAdjust="spacingAndGlyphs">(<tspan font-weight="bold">c</tspan>)</text>
<text x="279.1" y="338.8" font-size="12" fill="#111" stroke="#111" textLength="15.9" lengthAdjust="spacingAndGlyphs">(<tspan font-weight="bold">d</tspan>)</text>
</g>
</svg>
</body></html>
